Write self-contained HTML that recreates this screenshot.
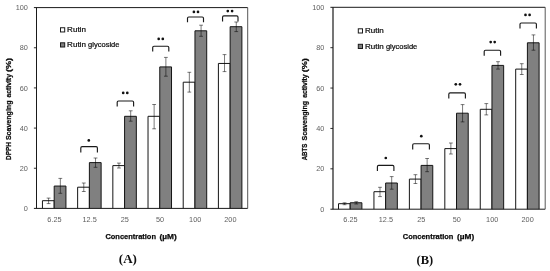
<!DOCTYPE html>
<html lang="en">
<head>
<meta charset="utf-8">
<title>Scavenging activity of rutin and rutin glycoside</title>
<style>
html,body{margin:0;padding:0;background:#fff;}
body{width:550px;height:271px;overflow:hidden;}
svg{display:block;}
text{font-family:"Liberation Sans",Arial,sans-serif;}
.t{font-size:7.3px;fill:#606060;}
.l{font-size:7.3px;fill:#0d0d0d;stroke:#0d0d0d;stroke-width:0.22px;}
.b{font-size:7.5px;font-weight:bold;fill:#0a0a0a;stroke:#0a0a0a;stroke-width:0.25px;}
.p{font-family:"Liberation Serif","Times New Roman",serif;font-size:12.6px;font-weight:bold;fill:#111;}
.bars path{stroke:#151515;stroke-width:1;}
.errs path{fill:none;stroke:#000;stroke-opacity:0.66;stroke-width:0.8;}
.brk path{fill:none;stroke:#1a1a1a;stroke-width:1.15;}
.stars circle{fill:#111;}
</style>
</head>
<body>
<svg width="550" height="271" viewBox="0 0 550 271">
<rect width="550" height="271" fill="#ffffff"/>
<g id="chartA">
<g class="bars">
<path d="M42.45 208.4V200.7H54.2V208.4" fill="#ffffff"/>
<path d="M54.2 208.4V186.05H65.95V208.4" fill="#808080"/>
<path d="M77.64 208.4V187.2H89.39V208.4" fill="#ffffff"/>
<path d="M89.39 208.4V162.6H101.14V208.4" fill="#808080"/>
<path d="M112.83 208.4V165.6H124.58V208.4" fill="#ffffff"/>
<path d="M124.58 208.4V116.3H136.33V208.4" fill="#808080"/>
<path d="M148.02 208.4V116.3H159.77V208.4" fill="#ffffff"/>
<path d="M159.77 208.4V66.9H171.52V208.4" fill="#808080"/>
<path d="M183.21 208.4V82.2H194.96V208.4" fill="#ffffff"/>
<path d="M194.96 208.4V30.8H206.71V208.4" fill="#808080"/>
<path d="M218.4 208.4V63.45H230.15V208.4" fill="#ffffff"/>
<path d="M230.15 208.4V26.7H241.9V208.4" fill="#808080"/>
</g>
<g class="errs">
<path d="M48.58 198.1V203.6M46.68 198.1H50.48M46.68 203.6H50.48"/>
<path d="M60.33 178.4V193.3M58.43 178.4H62.23M58.43 193.3H62.23"/>
<path d="M83.77 183V191.5M81.86 183H85.67M81.86 191.5H85.67"/>
<path d="M95.52 158V167.3M93.61 158H97.42M93.61 167.3H97.42"/>
<path d="M118.95 163.1V168M117.05 163.1H120.86M117.05 168H120.86"/>
<path d="M130.7 110.8V121.2M128.8 110.8H132.6M128.8 121.2H132.6"/>
<path d="M154.14 104.5V128.8M152.24 104.5H156.04M152.24 128.8H156.04"/>
<path d="M165.89 57.4V76.2M163.99 57.4H167.79M163.99 76.2H167.79"/>
<path d="M189.33 72.3V92.1M187.43 72.3H191.23M187.43 92.1H191.23"/>
<path d="M201.08 25.2V36.3M199.18 25.2H202.98M199.18 36.3H202.98"/>
<path d="M224.52 54.6V71.6M222.62 54.6H226.42M222.62 71.6H226.42"/>
<path d="M236.27 22V31.6M234.37 22H238.17M234.37 31.6H238.17"/>
</g>
<path d="M36.5 7.6V208.4" fill="none" stroke="#1a1a1a" stroke-width="1"/>
<path d="M33.9 208.4H247.7M33.9 7.6H247.7" fill="none" stroke="#1a1a1a" stroke-width="1"/>
<path d="M247.7 7.6V208.4" fill="none" stroke="#444" stroke-width="0.9"/>
<text x="27.9" y="211" text-anchor="end" class="t">0</text>
<path d="M33.9 168.24H36.5" stroke="#1a1a1a" stroke-width="0.9"/>
<text x="27.9" y="170.84" text-anchor="end" class="t">20</text>
<path d="M33.9 128.08H36.5" stroke="#1a1a1a" stroke-width="0.9"/>
<text x="27.9" y="130.68" text-anchor="end" class="t">40</text>
<path d="M33.9 87.92H36.5" stroke="#1a1a1a" stroke-width="0.9"/>
<text x="27.9" y="90.52" text-anchor="end" class="t">60</text>
<path d="M33.9 47.76H36.5" stroke="#1a1a1a" stroke-width="0.9"/>
<text x="27.9" y="50.36" text-anchor="end" class="t">80</text>
<text x="27.9" y="10.2" text-anchor="end" class="t">100</text>
<text x="54.45" y="221.5" text-anchor="middle" class="t">6.25</text>
<text x="89.64" y="221.5" text-anchor="middle" class="t">12.5</text>
<text x="124.83" y="221.5" text-anchor="middle" class="t">25</text>
<text x="160.02" y="221.5" text-anchor="middle" class="t">50</text>
<text x="195.21" y="221.5" text-anchor="middle" class="t">100</text>
<text x="230.4" y="221.5" text-anchor="middle" class="t">200</text>
<g class="brk">
<path d="M80.8 152.4V147.9Q80.8 146.6 82.1 146.6H96.1Q97.4 146.6 97.4 147.9V152.4"/>
<path d="M117.2 106.6V102.3Q117.2 101 118.5 101H132.3Q133.6 101 133.6 102.3V106.6"/>
<path d="M152.7 51.6V47.5Q152.7 46.2 154 46.2H167.5Q168.8 46.2 168.8 47.5V51.6"/>
<path d="M187.5 22.3V18.3Q187.5 17 188.8 17H202.2Q203.5 17 203.5 18.3V22.3"/>
<path d="M222.55 21.4V17.2Q222.55 15.9 223.85 15.9H236.7Q238 15.9 238 17.2V21.4"/>
</g>
<g class="stars">
<circle cx="88.8" cy="140.4" r="1.35"/>
<circle cx="123.2" cy="92.9" r="1.35"/>
<circle cx="127.3" cy="92.9" r="1.35"/>
<circle cx="158.7" cy="38.9" r="1.35"/>
<circle cx="162.8" cy="38.9" r="1.35"/>
<circle cx="193.9" cy="11.9" r="1.35"/>
<circle cx="198" cy="11.9" r="1.35"/>
<circle cx="227.8" cy="11.1" r="1.35"/>
<circle cx="232.1" cy="11.1" r="1.35"/>
</g>
<rect x="60.5" y="27.75" width="4.2" height="4.2" fill="#fff" stroke="#1a1a1a" stroke-width="1"/>
<rect x="60.5" y="42.8" width="4.2" height="4.2" fill="#808080" stroke="#1a1a1a" stroke-width="1"/>
<text y="32.35" class="l" xml:space="preserve"><tspan x="67.1" textLength="18.8" lengthAdjust="spacingAndGlyphs">Rutin</tspan></text>
<text y="47.3" class="l" xml:space="preserve"><tspan x="67.1" textLength="18.8" lengthAdjust="spacingAndGlyphs">Rutin</tspan> <tspan x="88.1" textLength="31.4" lengthAdjust="spacingAndGlyphs">glycoside</tspan></text>
<text y="238.6" class="b" xml:space="preserve"><tspan x="105.4" textLength="50.6" lengthAdjust="spacingAndGlyphs">Concentration</tspan> <tspan x="159.6" textLength="17.2" lengthAdjust="spacingAndGlyphs">(µM)</tspan></text>
<text transform="translate(10.8 160) rotate(-90)" y="0" class="b" xml:space="preserve"><tspan x="0" textLength="17.8" lengthAdjust="spacingAndGlyphs">DPPH</tspan> <tspan x="19.9" textLength="39.6" lengthAdjust="spacingAndGlyphs">Scavenging</tspan> <tspan x="62.6" textLength="23.3" lengthAdjust="spacingAndGlyphs">activity</tspan> <tspan x="88" textLength="14.1" lengthAdjust="spacingAndGlyphs">(%)</tspan></text>
<text x="118.8" y="263.3" class="p" textLength="18.1" lengthAdjust="spacingAndGlyphs">(A)</text>
</g>
<g id="chartB">
<g class="bars">
<path d="M338.5 209.2V203.7H350.2V209.2" fill="#ffffff"/>
<path d="M350.2 209.2V202.75H361.9V209.2" fill="#808080"/>
<path d="M373.94 209.2V191.7H385.64V209.2" fill="#ffffff"/>
<path d="M385.64 209.2V183H397.34V209.2" fill="#808080"/>
<path d="M409.38 209.2V179.1H421.08V209.2" fill="#ffffff"/>
<path d="M421.08 209.2V165.4H432.78V209.2" fill="#808080"/>
<path d="M444.82 209.2V148.6H456.52V209.2" fill="#ffffff"/>
<path d="M456.52 209.2V113.2H468.22V209.2" fill="#808080"/>
<path d="M480.26 209.2V109.3H491.96V209.2" fill="#ffffff"/>
<path d="M491.96 209.2V65.4H503.66V209.2" fill="#808080"/>
<path d="M515.7 209.2V69.1H527.4V209.2" fill="#ffffff"/>
<path d="M527.4 209.2V42.8H539.1V209.2" fill="#808080"/>
</g>
<g class="errs">
<path d="M344.55 202.8V204.7M342.65 202.8H346.45M342.65 204.7H346.45"/>
<path d="M356.25 201.7V204M354.35 201.7H358.15M354.35 204H358.15"/>
<path d="M379.99 187.3V196.6M378.09 187.3H381.89M378.09 196.6H381.89"/>
<path d="M391.69 176.6V189.2M389.79 176.6H393.59M389.79 189.2H393.59"/>
<path d="M415.43 174.7V183.5M413.53 174.7H417.33M413.53 183.5H417.33"/>
<path d="M427.13 158.5V171.7M425.23 158.5H429.03M425.23 171.7H429.03"/>
<path d="M450.87 143V154M448.97 143H452.77M448.97 154H452.77"/>
<path d="M462.57 104.6V121.9M460.67 104.6H464.47M460.67 121.9H464.47"/>
<path d="M486.31 103.6V114.9M484.41 103.6H488.21M484.41 114.9H488.21"/>
<path d="M498.01 61.7V69.1M496.11 61.7H499.91M496.11 69.1H499.91"/>
<path d="M521.75 63.7V74.5M519.85 63.7H523.65M519.85 74.5H523.65"/>
<path d="M533.45 34.9V50.2M531.55 34.9H535.35M531.55 50.2H535.35"/>
</g>
<path d="M333 7.3V209.2" fill="none" stroke="#1a1a1a" stroke-width="1.2"/>
<path d="M330.4 209.2H545.2M330.4 7.3H545.2" fill="none" stroke="#1a1a1a" stroke-width="1"/>
<path d="M545.2 7.3V209.2" fill="none" stroke="#444" stroke-width="0.9"/>
<text x="324.4" y="211.65" text-anchor="end" class="t">0</text>
<path d="M330.4 168.82H333" stroke="#1a1a1a" stroke-width="0.9"/>
<text x="324.4" y="171.27" text-anchor="end" class="t">20</text>
<path d="M330.4 128.44H333" stroke="#1a1a1a" stroke-width="0.9"/>
<text x="324.4" y="130.89" text-anchor="end" class="t">40</text>
<path d="M330.4 88.06H333" stroke="#1a1a1a" stroke-width="0.9"/>
<text x="324.4" y="90.51" text-anchor="end" class="t">60</text>
<path d="M330.4 47.68H333" stroke="#1a1a1a" stroke-width="0.9"/>
<text x="324.4" y="50.13" text-anchor="end" class="t">80</text>
<text x="324.4" y="9.75" text-anchor="end" class="t">100</text>
<text x="350.45" y="222.35" text-anchor="middle" class="t">6.25</text>
<text x="385.89" y="222.35" text-anchor="middle" class="t">12.5</text>
<text x="421.33" y="222.35" text-anchor="middle" class="t">25</text>
<text x="456.77" y="222.35" text-anchor="middle" class="t">50</text>
<text x="492.21" y="222.35" text-anchor="middle" class="t">100</text>
<text x="527.65" y="222.35" text-anchor="middle" class="t">200</text>
<g class="brk">
<path d="M377.4 171V166.7Q377.4 165.4 378.7 165.4H392.6Q393.9 165.4 393.9 166.7V171"/>
<path d="M412.7 149.4V145Q412.7 143.7 414 143.7H428.1Q429.4 143.7 429.4 145V149.4"/>
<path d="M448.8 98.5V94.2Q448.8 92.9 450.1 92.9H464.1Q465.4 92.9 465.4 94.2V98.5"/>
<path d="M484.2 55.8V51.5Q484.2 50.2 485.5 50.2H499.3Q500.6 50.2 500.6 51.5V55.8"/>
<path d="M520 28.5V24.3Q520 23 521.3 23H535.1Q536.4 23 536.4 24.3V28.5"/>
</g>
<g class="stars">
<circle cx="385.8" cy="158" r="1.35"/>
<circle cx="421.3" cy="136.2" r="1.35"/>
<circle cx="455.8" cy="84.3" r="1.35"/>
<circle cx="460" cy="84.3" r="1.35"/>
<circle cx="490.7" cy="42.1" r="1.35"/>
<circle cx="494.7" cy="42.1" r="1.35"/>
<circle cx="525.5" cy="14.9" r="1.35"/>
<circle cx="529.6" cy="14.9" r="1.35"/>
</g>
<rect x="358.3" y="28.8" width="4.2" height="4.2" fill="#fff" stroke="#1a1a1a" stroke-width="1"/>
<rect x="358.3" y="44.3" width="4.2" height="4.2" fill="#808080" stroke="#1a1a1a" stroke-width="1"/>
<text y="33.4" class="l" xml:space="preserve"><tspan x="364.9" textLength="18.8" lengthAdjust="spacingAndGlyphs">Rutin</tspan></text>
<text y="48.8" class="l" xml:space="preserve"><tspan x="364.9" textLength="18.8" lengthAdjust="spacingAndGlyphs">Rutin</tspan> <tspan x="385.9" textLength="31.4" lengthAdjust="spacingAndGlyphs">glycoside</tspan></text>
<text y="239.2" class="b" xml:space="preserve"><tspan x="402.8" textLength="50.6" lengthAdjust="spacingAndGlyphs">Concentration</tspan> <tspan x="457" textLength="17.2" lengthAdjust="spacingAndGlyphs">(µM)</tspan></text>
<text transform="translate(307.1 160.3) rotate(-90)" y="0" class="b" xml:space="preserve"><tspan x="0" textLength="16.6" lengthAdjust="spacingAndGlyphs">ABTS</tspan> <tspan x="19.9" textLength="39.6" lengthAdjust="spacingAndGlyphs">Scavenging</tspan> <tspan x="62.6" textLength="23.3" lengthAdjust="spacingAndGlyphs">activity</tspan> <tspan x="88" textLength="14.1" lengthAdjust="spacingAndGlyphs">(%)</tspan></text>
<text x="416.6" y="263.6" class="p" textLength="16.6" lengthAdjust="spacingAndGlyphs">(B)</text>
</g>
</svg>
</body>
</html>
